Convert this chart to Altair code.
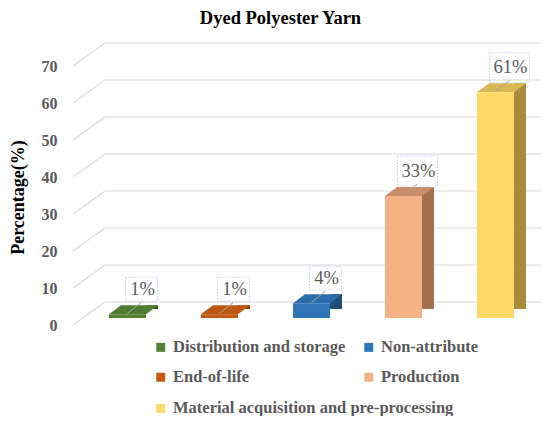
import altair as alt
import pandas as pd

# bars, left to right
categories = [
    "Distribution and storage",
    "End-of-life",
    "Non-attribute",
    "Production",
    "Material acquisition and pre-processing",
]
percent = [1, 1, 4, 33, 61]
bar_labels = ["1%", "1%", "4%", "33%", "61%"]
y_ticks = [0, 10, 20, 30, 40, 50, 60, 70]

# the Excel legend is a 2x2 block plus one long last row
legend_main = ["Distribution and storage", "Non-attribute", "End-of-life", "Production"]
legend_last = ["Material acquisition and pre-processing"]

# face colours, same order as categories
front_colors = ["#548235", "#c55a11", "#2e75b6", "#f4b183", "#ffd966"]
top_colors = ["#4e7c30", "#bd5610", "#2a6cab", "#c98d68", "#d9b752"]
side_colors = ["#3a5c24", "#8a3f0c", "#1f4e79", "#a3704f", "#a78c3c"]

SERIF = "Liberation Serif"
GREY = "#595959"
GRID = "#d9d9d9"
W, H = 460, 259

# custom symbol paths (unit square, scaled by sqrt(size)/2)
TOP_FACE = "M -1 0.1837 L 0.5102 0.1837 L 1 -0.1837 L -0.5102 -0.1837 Z"
NOTCH = "M -1 0.75 L 1 -0.75 L 1 0.75 Z"
LEADER = "M -1 0.786 L 1 -0.786"
BOX = "M -1 -0.75 L 1 -0.75 L 1 0.75 L -1 0.75 Z"

bars = pd.DataFrame({"category": categories, "percent": percent, "label": bar_labels})
ticks = pd.DataFrame({"tick": y_ticks})

y_scale = alt.Scale(domain=[0, 70], nice=False)
y_axis = alt.Axis(
    values=y_ticks,
    title="Percentage(%)",
    grid=False,
    domain=False,
    ticks=False,
    tickSize=0,
    labelFont=SERIF,
    labelFontSize=16,
    labelFontWeight="bold",
    labelColor=GREY,
    labelPadding=24.5,
    labelOffset=7,
    titleFont=SERIF,
    titleFontSize=18,
    titleFontWeight="bold",
    titleColor="black",
    titleX=-63.5,
    titleY=138,
    titleAngle=270,
    titleAlign="center",
    titleBaseline="middle",
)
x_enc = alt.X(
    "category:N",
    sort=categories,
    axis=None,
    scale=alt.Scale(paddingInner=0.6, paddingOuter=0.3),
)


def face_color(domain, colors, legend=None):
    lookup = dict(zip(categories, colors))
    scale = alt.Scale(domain=domain, range=[lookup[c] for c in domain])
    if legend is None:
        return alt.Color("category:N", scale=scale, legend=None)
    return alt.Color("category:N", scale=scale, legend=legend)


def legend_box(y):
    return alt.Legend(
        title=None,
        orient="none",
        legendX=71,
        legendY=y,
        direction="horizontal",
        columns=2,
        columnPadding=15,
        rowPadding=13,
        padding=0,
        symbolType="square",
        symbolSize=81,
        symbolStrokeWidth=0,
        labelOffset=4,
        labelFont=SERIF,
        labelFontSize=16.5,
        labelFontWeight="bold",
        labelColor=GREY,
        labelLimit=400,
    )


# back wall gridlines and the slanted floor/side lines
back_grid = alt.Chart(ticks).mark_rule(color=GRID, strokeWidth=1.2, yOffset=-16).encode(
    y=alt.Y("tick:Q", scale=y_scale, axis=y_axis),
    x=alt.value(23.5),
    x2=alt.value(W),
)
slants = alt.Chart(ticks).mark_rule(color=GRID, strokeWidth=1.2, yOffset=7, y2Offset=-16).encode(
    y=alt.Y("tick:Q", scale=y_scale, axis=y_axis),
    y2=alt.Y2("tick"),
    x=alt.value(-8.5),
    x2=alt.value(23.5),
)

base = alt.Chart(bars)
y_enc = alt.Y("percent:Q", scale=y_scale, axis=y_axis)

side = base.mark_bar(size=12, xOffset=24.5, yOffset=-9).encode(
    x=x_enc, y=y_enc, color=face_color(categories, side_colors)
)
notch = base.transform_calculate(floor="0").mark_point(
    shape=NOTCH, size=144, filled=True, color="white", opacity=1, strokeWidth=0, xOffset=24.5, yOffset=-4.5
).encode(x=x_enc, y=alt.Y("floor:Q", scale=y_scale, axis=y_axis))
top = base.mark_point(
    shape=TOP_FACE, size=2401, filled=True, opacity=1, strokeWidth=0, xOffset=6, yOffset=-4.5
).encode(x=x_enc, y=y_enc, color=face_color(categories, top_colors))

front_main = base.transform_filter(
    alt.FieldOneOfPredicate(field="category", oneOf=legend_main)
).mark_bar(size=37).encode(
    x=x_enc, y=y_enc, color=face_color(legend_main, front_colors, legend_box(280))
)
front_last = base.transform_filter(
    alt.FieldOneOfPredicate(field="category", oneOf=legend_last)
).mark_bar(size=37).encode(
    x=x_enc, y=y_enc, color=face_color(legend_last, front_colors, legend_box(341))
)

leader = base.mark_point(
    shape=LEADER, size=196, filled=False, color="#a6a6a6", strokeWidth=1, opacity=1, xOffset=7, yOffset=-6.5
).encode(x=x_enc, y=y_enc)
boxes = base.transform_calculate(
    box="pow(length(datum.label) * 8 + 16, 2)"
).mark_point(
    shape=BOX, filled=False, color="#9dc3e6", strokeWidth=1, strokeDash=[1, 2], opacity=1, xOffset=14, yOffset=-25
).encode(x=x_enc, y=y_enc, size=alt.Size("box:Q", scale=None))
labels = base.mark_text(
    font=SERIF, fontSize=18.5, color=GREY, dx=15, dy=-25, baseline="middle"
).encode(x=x_enc, y=y_enc, text="label:N")

chart = (
    alt.layer(back_grid, slants, side, notch, top, front_main, front_last, leader, boxes, labels)
    .resolve_scale(color="independent")
    .properties(
        width=W,
        height=H,
        title=alt.TitleParams(
            "Dyed Polyester Yarn",
            font=SERIF,
            fontSize=18.5,
            fontWeight="bold",
            color="black",
            anchor="middle",
            baseline="middle",
            dx=-31,
            offset=6,
        ),
        autosize=alt.AutoSizeParams(type="none"),
        padding={"left": 73.5, "top": 51, "right": 0, "bottom": 98},
    )
    .configure_view(stroke=None)
)

chart.save("out.html", embed_options={"renderer": "svg", "actions": False})
